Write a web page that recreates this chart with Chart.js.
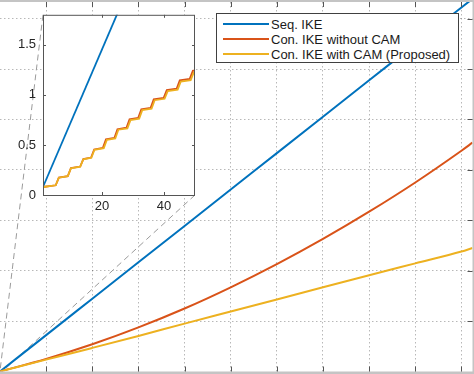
<!DOCTYPE html>
<html>
<head>
<meta charset="utf-8">
<script src="https://cdn.jsdelivr.net/npm/chart.js@4.4.0/dist/chart.umd.min.js"></script>
<style>
  html, body { margin: 0; padding: 0; background: #fff; }
  #wrap { position: relative; width: 474px; height: 374px; overflow: hidden; }
  #mainChart, #insetChart { position: absolute; left: 0; top: 0; }
  #legend { position: absolute; left: 216px; top: 13px; width: 241px; height: 48px;
            border: 1px solid #404040; background: #fff;
            font: 13px "Liberation Sans", Arial, sans-serif; color: #1a1a1a; }
  #legend .row { position: absolute; left: 0; height: 15px; line-height: 15px; white-space: nowrap; }
  #legend .ln { position: absolute; left: 6px; top: 6.5px; width: 46px; height: 2px; }
  #legend .tx { position: absolute; left: 54px; top: 0; }
</style>
</head>
<body>
<div id="wrap">
  <canvas id="mainChart" width="474" height="374"></canvas>
  <canvas id="insetChart" width="200" height="215"></canvas>
  <div id="legend"></div>
</div>
<script>
// Série
const seriesNames = ['Seq. IKE', 'Con. IKE without CAM', 'Con. IKE with CAM (Proposed)'];
const seriesColors = ['#0072BD', '#D95319', '#EDB120'];

// Wykres główny
const mainX = [1, 1000, 2000, 3000, 4000, 5000, 6000, 7000, 8000, 9000, 10000, 10240];
const seqIke = [0.08, 72.2, 144.4, 216.6, 288.8, 361, 433.2, 505.4, 577.6, 649.8, 722, 739.3];
const conNoCam = [0.08, 25, 54, 87.5, 125, 167, 213, 263, 317, 375, 438, 454];
const conCam = [0.08, 23.5, 46.8, 70.5, 95, 119, 143, 167, 191, 214.5, 238, 245];
const mainXTicks = [1000, 2000, 3000, 4000, 5000, 6000, 7000, 8000, 9000, 10000];
const mainYTicks = [100, 200, 300, 400, 500, 600, 700];

// Powiększenie (inset)
const insetSeqX = [1, 50];
const insetSeqY = [0.08, 3.62];
const insetNoCamX = [1, 5.1, 6.1, 9.0, 10.0, 13.0, 14.0, 16.5, 17.5, 20.3, 21.3, 24.0, 25.0, 27.9, 28.9, 31.7, 32.7, 35.7, 36.7, 39.9, 40.9, 44.1, 45.1, 48.3, 49.3, 50];
const insetNoCamY = [0.08, 0.097, 0.174, 0.189, 0.268, 0.284, 0.359, 0.374, 0.455, 0.471, 0.556, 0.57, 0.657, 0.672, 0.755, 0.77, 0.856, 0.87, 0.956, 0.97, 1.047, 1.062, 1.145, 1.16, 1.24, 1.245];
const insetCamX = [1, 5.1, 6.1, 9.0, 10.0, 13.0, 14.0, 16.6, 17.6, 20.6, 21.6, 24.3, 25.3, 28.2, 29.2, 32.0, 33.0, 36.0, 37.0, 40.2, 41.2, 44.4, 45.4, 48.6, 49.6, 50];
const insetCamY = [0.08, 0.097, 0.173, 0.188, 0.267, 0.283, 0.357, 0.372, 0.452, 0.468, 0.552, 0.566, 0.652, 0.666, 0.748, 0.763, 0.848, 0.862, 0.947, 0.961, 1.037, 1.052, 1.133, 1.147, 1.225, 1.23];
const insetXTicks = [20, 40];
const insetYTicks = [0, 0.5, 1, 1.5];

Chart.defaults.font.family = '"Liberation Sans", Arial, sans-serif';
Chart.defaults.color = '#262626';

const toXY = (xs, ys) => xs.map((x, i) => ({ x: x, y: ys[i] }));

function makeSets(xyList, width, smooth) {
    return xyList.map((pts, i) => ({
        label: seriesNames[i],
        data: pts,
        borderColor: seriesColors[i],
        backgroundColor: seriesColors[i],
        borderWidth: width,
        pointRadius: 0,
        cubicInterpolationMode: smooth ? 'monotone' : 'default',
        tension: 0,
        order: 2 - i
    }));
}

// Inset
const insetChart = new Chart(document.getElementById('insetChart'), {
    type: 'line',
    data: { datasets: makeSets([toXY(insetSeqX, insetSeqY), toXY(insetNoCamX, insetNoCamY), toXY(insetCamX, insetCamY)], 1.8, false) },
    options: {
        responsive: false,
        animation: false,
        layout: { padding: { left: 0, top: 12, right: 5, bottom: 0 } },
        plugins: { legend: { display: false }, tooltip: { enabled: false } },
        scales: {
            x: {
                type: 'linear', min: 1, max: 50,
                afterBuildTicks: s => { s.ticks = insetXTicks.map(v => ({ value: v })); },
                afterFit: s => { s.height = 20; },
                ticks: { font: { size: 13 }, padding: 4, maxRotation: 0 },
                grid: { display: false, drawTicks: false },
                border: { display: false }
            },
            y: {
                type: 'linear', min: 0, max: 1.8,
                afterBuildTicks: s => { s.ticks = insetYTicks.map(v => ({ value: v })); },
                afterFit: s => { s.width = 43; },
                ticks: { font: { size: 13 }, padding: 7, callback: v => String(v) },
                grid: { display: false, drawTicks: false },
                border: { display: false }
            }
        }
    },
    plugins: [{
        id: 'insetBox',
        beforeDraw(chart) {
            const a = chart.chartArea, ctx = chart.ctx;
            ctx.save();
            ctx.fillStyle = '#fff';
            ctx.fillRect(a.left, a.top, a.right - a.left, a.bottom - a.top);
            ctx.restore();
        },
        afterDraw(chart) {
            const a = chart.chartArea, ctx = chart.ctx;
            const xs = chart.scales.x, ys = chart.scales.y;
            ctx.save();
            ctx.strokeStyle = '#555';
            ctx.lineWidth = 1;
            ctx.beginPath();
            insetXTicks.forEach(v => {
                const px = Math.round(xs.getPixelForValue(v)) + 0.5;
                ctx.moveTo(px, a.bottom); ctx.lineTo(px, a.bottom - 3);
                ctx.moveTo(px, a.top); ctx.lineTo(px, a.top + 3);
            });
            insetYTicks.forEach(v => {
                const py = Math.round(ys.getPixelForValue(v)) + 0.5;
                ctx.moveTo(a.left, py); ctx.lineTo(a.left + 3, py);
                ctx.moveTo(a.right, py); ctx.lineTo(a.right - 3, py);
            });
            ctx.stroke();
            ctx.strokeRect(a.left + 0.5, a.top + 0.5, a.right - a.left - 1, a.bottom - a.top);
            ctx.restore();
        }
    }]
});

// Główny wykres
const gridColor = 'rgba(0,0,0,0.28)';
const mainChart = new Chart(document.getElementById('mainChart'), {
    type: 'line',
    data: { datasets: makeSets([toXY(mainX, seqIke), toXY(mainX, conNoCam), toXY(mainX, conCam)], 2, true) },
    options: {
        responsive: false,
        animation: false,
        layout: { padding: { left: 0, top: 2, right: 1.5, bottom: 2.5 } },
        plugins: { legend: { display: false }, tooltip: { enabled: false } },
        scales: {
            x: {
                type: 'linear', min: 0, max: 10240,
                afterBuildTicks: s => { s.ticks = mainXTicks.map(v => ({ value: v })); },
                ticks: { display: false },
                grid: { color: gridColor, lineWidth: 1, drawTicks: false },
                border: { display: false, dash: [1.5, 2.5] }
            },
            y: {
                type: 'linear', min: 0, max: 733,
                afterBuildTicks: s => { s.ticks = mainYTicks.map(v => ({ value: v })); },
                ticks: { display: false },
                grid: { color: gridColor, lineWidth: 1, drawTicks: false },
                border: { display: false, dash: [1.5, 2.5] }
            }
        }
    },
    plugins: [{
        id: 'zoomLinks',
        beforeDatasetsDraw(chart) {
            // linie łączące inset z obszarem powiększenia
            const xs = chart.scales.x, ys = chart.scales.y, ctx = chart.ctx;
            const ia = insetChart.chartArea;
            ctx.save();
            ctx.strokeStyle = '#9a9a9a';
            ctx.lineWidth = 1;
            ctx.setLineDash([6, 4]);
            ctx.beginPath();
            ctx.moveTo(ia.left, ia.top);
            ctx.lineTo(xs.getPixelForValue(insetSeqX[0]), ys.getPixelForValue(1.8));
            ctx.moveTo(ia.right, ia.bottom);
            ctx.lineTo(xs.getPixelForValue(50), ys.getPixelForValue(0));
            ctx.stroke();
            ctx.restore();
        },
        afterDraw(chart) {
            const a = chart.chartArea, ctx = chart.ctx;
            const xs = chart.scales.x, ys = chart.scales.y;
            ctx.save();
            ctx.fillStyle = '#c4c4c4';
            ctx.fillRect(0, 0, chart.width, a.top);
            ctx.fillRect(0, a.bottom, chart.width, chart.height - a.bottom);
            ctx.fillRect(a.right, 0, chart.width - a.right, chart.height);
            ctx.strokeStyle = '#555';
            ctx.lineWidth = 1;
            ctx.beginPath();
            mainXTicks.forEach(v => {
                const px = Math.round(xs.getPixelForValue(v)) + 0.5;
                ctx.moveTo(px, a.top); ctx.lineTo(px, a.top + 5);
                ctx.moveTo(px, a.bottom); ctx.lineTo(px, a.bottom - 5);
            });
            mainYTicks.forEach(v => {
                const py = Math.round(ys.getPixelForValue(v)) + 0.5;
                ctx.moveTo(a.right, py); ctx.lineTo(a.right - 5, py);
            });
            ctx.stroke();
            ctx.restore();
        }
    }]
});

// Legenda
const legendBox = document.getElementById('legend');
mainChart.data.datasets.forEach((ds, i) => {
    legendBox.innerHTML += `<div class="row" style="top:${2.5 + i * 15}px;width:100%">` +
        `<span class="ln" style="background:${ds.borderColor}"></span>` +
        `<span class="tx">${ds.label}</span></div>`;
});
</script>
</body>
</html>
